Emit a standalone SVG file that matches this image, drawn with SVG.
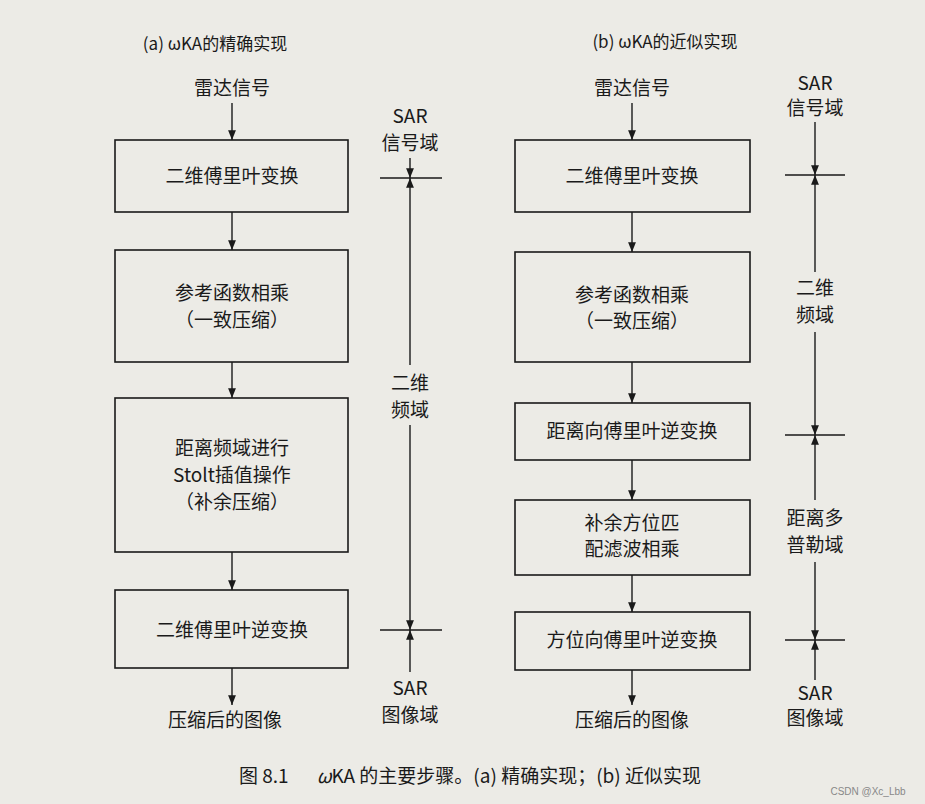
<svg xmlns="http://www.w3.org/2000/svg" width="925" height="804" viewBox="0 0 925 804">
<defs>
<marker id="ah" viewBox="0 0 10 10" refX="10" refY="5" markerWidth="7" markerHeight="7" orient="auto-start-reverse"><path d="M0,1 L10,5 L0,9 z" fill="#1a1a1a"/></marker>
<style>
.b{fill:none;stroke:#1a1a1a;stroke-width:1.6}
.l{stroke:#1a1a1a;stroke-width:1.4;fill:none}
.a{stroke:#1a1a1a;stroke-width:1.4;fill:none;marker-end:url(#ah)}
text{font-family:"Noto Sans CJK SC","Liberation Serif",serif;font-size:19px;fill:#1a1a1a;text-anchor:middle}
</style>
</defs>
<rect width="925" height="804" fill="#ecebe6"/>
<text x="215" y="50" style="font-size:17px">(a) ωKA的精确实现</text>
<text x="665" y="48" style="font-size:17px">(b) ωKA的近似实现</text>
<text x="232" y="95">雷达信号</text>
<text x="632" y="95">雷达信号</text>
<g id="a1"><rect class="b" x="115" y="140" width="233" height="72"/><text x="232" y="183">二维傅里叶变换</text></g>
<g id="a2"><rect class="b" x="115" y="250" width="233" height="112"/><text x="232" y="300">参考函数相乘</text><text x="232" y="327">（一致压缩）</text></g>
<g id="a3"><rect class="b" x="115" y="398" width="233" height="154"/><text x="232" y="455">距离频域进行</text><text x="232" y="482">Stolt插值操作</text><text x="232" y="509">（补余压缩）</text></g>
<g id="a4"><rect class="b" x="115" y="590" width="233" height="78"/><text x="232" y="637">二维傅里叶逆变换</text></g>
<text x="225" y="727">压缩后的图像</text>
<g id="b1"><rect class="b" x="515" y="140" width="235" height="72"/><text x="632" y="183">二维傅里叶变换</text></g>
<g id="b2"><rect class="b" x="515" y="252" width="235" height="110"/><text x="632" y="302">参考函数相乘</text><text x="632" y="328">（一致压缩）</text></g>
<g id="b3"><rect class="b" x="515" y="403" width="235" height="57"/><text x="632" y="438">距离向傅里叶逆变换</text></g>
<g id="b4"><rect class="b" x="515" y="500" width="235" height="75"/><text x="632" y="530">补余方位匹</text><text x="632" y="556">配滤波相乘</text></g>
<g id="b5"><rect class="b" x="515" y="612" width="235" height="58"/><text x="632" y="647">方位向傅里叶逆变换</text></g>
<text x="632" y="727">压缩后的图像</text>
<g id="axes">
<text x="410" y="123">SAR</text><text x="410" y="150">信号域</text>
<text x="410" y="390">二维</text><text x="410" y="417">频域</text>
<text x="410" y="695">SAR</text><text x="410" y="722">图像域</text>
<text x="815" y="90">SAR</text><text x="815" y="115">信号域</text>
<text x="815" y="295">二维</text><text x="815" y="322">频域</text>
<text x="815" y="525">距离多</text><text x="815" y="552">普勒域</text>
<text x="815" y="700">SAR</text><text x="815" y="725">图像域</text>
</g>
<g id="connectors">
<path class="a" d="M232 103V140"/><path class="a" d="M232 212V250"/><path class="a" d="M232 362V398"/><path class="a" d="M232 552V590"/><path class="a" d="M232 668V705"/>
<path class="a" d="M632 103V140"/><path class="a" d="M632 212V252"/><path class="a" d="M632 362V403"/><path class="a" d="M632 460V500"/><path class="a" d="M632 575V612"/><path class="a" d="M632 670V705"/>
<path class="l" d="M380 178H442M380 630H442M785 175H845M785 435H845M785 640H845"/>
<path class="a" d="M410 158V178"/><path class="a" d="M410 365V178"/><path class="a" d="M410 425V630"/><path class="a" d="M410 672V630"/>
<path class="a" d="M815 122V175"/><path class="a" d="M815 272V175"/><path class="a" d="M815 332V435"/><path class="a" d="M815 500V435"/><path class="a" d="M815 562V640"/><path class="a" d="M815 680V640"/>
</g>
<text x="470" y="783"><tspan>图 8.1</tspan><tspan dx="28" font-style="italic">ω</tspan>KA 的主要步骤。(a) 精确实现；(b) 近似实现</text>
<text x="868" y="795" style="font-size:10px;font-family:'Liberation Sans',sans-serif;fill:#888">CSDN @Xc_Lbb</text>
</svg>
